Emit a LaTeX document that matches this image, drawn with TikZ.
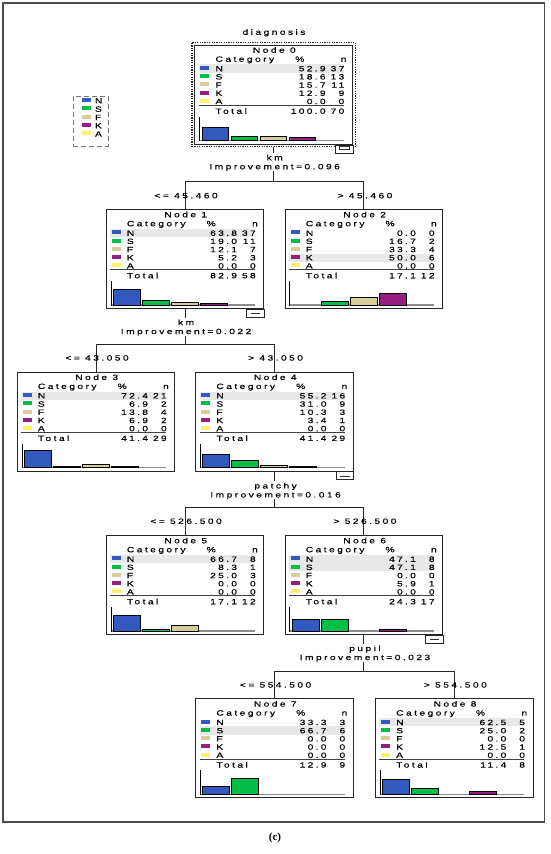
\documentclass[tikz,border=0pt]{standalone}
\usepackage{fontspec}
\setmainfont{Liberation Sans}[LetterSpace=32, FakeStretch=1.35, FakeBold=0.25]
\newfontfamily\numfont{Liberation Sans}[LetterSpace=30, FakeStretch=1.35, FakeBold=0.25]
\newfontfamily\capfont{Liberation Serif}
\usetikzlibrary{calc,fit}
\definecolor{cN}{RGB}{50,90,190}
\definecolor{cS}{RGB}{0,190,70}
\definecolor{cF}{RGB}{215,205,150}
\definecolor{cK}{RGB}{150,30,130}
\definecolor{cA}{RGB}{255,240,110}
\definecolor{hlgray}{RGB}{232,232,232}
\tikzset{
  treebox/.style={draw=black!85, line width=1pt, fill=white, minimum width=157.7pt, minimum height=99pt, inner sep=0pt, anchor=north west},
  txt/.style={inner sep=0pt, font=\fontsize{7.6}{9}\selectfont, text height=5.5pt, text depth=0pt},
  num/.style={txt, font=\numfont\fontsize{7.6}{9}\selectfont, anchor=east},
  barbox/.style={draw=black, line width=0.8pt},
  conn/.style={draw=black!85, line width=1pt},
  dotframe/.style={draw=black!85, line width=1.3pt, dash pattern=on 1.2pt off 1.2pt, inner sep=0pt},
  legendbox/.style={draw=black!55, line width=1pt, dash pattern=on 5pt off 3pt, inner sep=0pt, anchor=north west},
  minbox/.style={draw=black!85, line width=0.9pt, fill=white},
}
\newcommand\treenode[7]{%
  \node[treebox] (#1) at (#2,#3) {};
  \begin{scope}[shift={(#1.north west)}]
    \node[txt] (#1-title) at (80,5.5) {Node #4};
    \node[txt, anchor=west] (#1-cat) at (21,14.5) {Category};
    \node[txt] (#1-pcth) at (105.5,14.5) {\%};
    \node[txt, anchor=east] (#1-nh) at (152.3,14.5) {n};
    \draw[black!45, line width=1.3pt] (5.3,96) -- (149.3,96);
    \draw[black, line width=0.9pt] (5.3,72) -- (5.3,96.6);
    \foreach \lab/\col/\p/\n/\hl [count=\i from 0] in {#5}{
      \ifnum\hl=1 \fill[hlgray] (4.3,24+8.2*\i-4.1) rectangle (149.3,24+8.2*\i+4.1);\fi
      \fill[\col] (6,24+8.2*\i-2.6) rectangle (15,24+8.2*\i+1.4);
      \node[txt, anchor=west] (#1-l\i) at (21,24+8.2*\i) {\lab};
      \node[num] (#1-p\i) at (131.5,24+8.2*\i) {\p};
      \node[num] (#1-c\i) at (150.2,24+8.2*\i) {\n};
      \ifdim\p pt>0pt \draw[barbox, fill=\col] (7.6+29*\i,96) rectangle (34.3+29*\i,96-0.24*\p);\fi
    }
    \draw[black!75, line width=1pt] (4.3,60.7) -- (149.3,60.7);
    \node[txt, anchor=west] (#1-tot) at (21,66.5) {Total};
    \node[num] (#1-totp) at (131.5,66.5) {#6};
    \node[num] (#1-totn) at (150.2,66.5) {#7};
  \end{scope}
}
\newcommand\minimizer[1]{%
  \draw[minbox] ($(#1.south east)+(-17.6,0)$) rectangle ($(#1.south east)+(0,8)$);
  \draw[black!80, line width=0.9pt] ($(#1.south east)+(-13.5,4.5)$) -- ($(#1.south east)+(-4,4.5)$);
}
% #1 parent, #2 left child, #3 right child, #4 y of bar, #5 y of variable text, #6 variable, #7 improvement, #8 left label, #9 right label
\newcommand\splitdraw[9]{%
  \coordinate (#1-h) at (0,#4);
  \coordinate (#1-v) at (0,#5);
  \coordinate (#1-i) at (0,#5+9);
  \coordinate (#1-b) at (0,#4+13.8);
  \draw[conn] (#1.south) -- (#1.south |- #1-h);
  \draw[conn] (#2.north) |- (#1-h -| #3.north) -- (#3.north);
  \node[txt, fill=white, inner xsep=1pt, inner ysep=1.5pt] (#1-var) at ([xshift=1pt]#1.south |- #1-v) {#6};
  \node[txt, fill=white, inner xsep=1pt, inner ysep=1.5pt] (#1-imp) at ([xshift=1pt]#1.south |- #1-i) {Improvement=#7};
  \node[txt] (#1-bl) at ([xshift=1pt]#2.north |- #1-b) {#8};
  \node[txt] (#1-br) at ([xshift=1pt]#3.north |- #1-b) {#9};
}
\begin{document}
\begin{tikzpicture}[x=1pt, y=-1pt]
\useasboundingbox (0,0) rectangle (550,854);
\fill[white] (0,0) rectangle (550,854);
\draw[black!70, line width=1.3pt] (3,3) rectangle (544.5,822);

% legend
\node[legendbox, minimum width=35pt, minimum height=50pt] (legend) at (72.7,95.7) {};
\foreach \lab/\col [count=\i from 0] in {N/cN,S/cS,F/cF,K/cK,A/cA}{
  \fill[\col] (81.7,100.7+8.3*\i-2.6) rectangle (90.7,100.7+8.3*\i+1.4);
  \node[txt, anchor=west] (leg\i) at (94.8,100.7+8.3*\i) {\lab};
}

\node[txt] (diag) at (274,32) {diagnosis};

\treenode{n0}{194.3}{44.5}{0}{N/cN/52.9/37/1, S/cS/18.6/13/0, F/cF/15.7/11/0, K/cK/12.9/9/0, A/cA/0.0/0/0}{100.0}{70}
\node[dotframe, fit=(n0), inner xsep=2.3pt, inner ysep=2.3pt] (n0f) {};
\draw[minbox] ($(n0.south east)+(-17.6,0.5)$) rectangle ($(n0.south east)+(0,8.5)$);
\draw[black!80, line width=0.8pt] ($(n0.south east)+(-14,1.5)$) rectangle ($(n0.south east)+(-3.5,5)$);

\treenode{n1}{105.7}{209}{1}{N/cN/63.8/37/1, S/cS/19.0/11/0, F/cF/12.1/7/0, K/cK/5.2/3/0, A/cA/0.0/0/0}{82.9}{58}
\minimizer{n1}
\treenode{n2}{284.6}{209}{2}{N/cN/0.0/0/0, S/cS/16.7/2/0, F/cF/33.3/4/0, K/cK/50.0/6/1, A/cA/0.0/0/0}{17.1}{12}

\treenode{n3}{16.7}{371.7}{3}{N/cN/72.4/21/1, S/cS/6.9/2/0, F/cF/13.8/4/0, K/cK/6.9/2/0, A/cA/0.0/0/0}{41.4}{29}
\treenode{n4}{195.2}{371.7}{4}{N/cN/55.2/16/1, S/cS/31.0/9/0, F/cF/10.3/3/0, K/cK/3.4/1/0, A/cA/0.0/0/0}{41.4}{29}
\minimizer{n4}

\treenode{n5}{105.7}{535}{5}{N/cN/66.7/8/1, S/cS/8.3/1/0, F/cF/25.0/3/0, K/cK/0.0/0/0, A/cA/0.0/0/0}{17.1}{12}
\treenode{n6}{284.6}{535}{6}{N/cN/47.1/8/1, S/cS/47.1/8/1, F/cF/0.0/0/0, K/cK/5.9/1/0, A/cA/0.0/0/0}{24.3}{17}
\minimizer{n6}

\treenode{n7}{195.2}{698.3}{7}{N/cN/33.3/3/0, S/cS/66.7/6/1, F/cF/0.0/0/0, K/cK/0.0/0/0, A/cA/0.0/0/0}{12.9}{9}
\treenode{n8}{375}{698.3}{8}{N/cN/62.5/5/1, S/cS/25.0/2/0, F/cF/0.0/0/0, K/cK/12.5/1/0, A/cA/0.0/0/0}{11.4}{8}

\splitdraw{n0f}{n1}{n2}{181.7}{157.5}{km}{0.096}{<= 45.460}{> 45.460}
\splitdraw{n1}{n3}{n4}{344}{322.3}{km}{0.022}{<= 43.050}{> 43.050}
\splitdraw{n4}{n5}{n6}{507.3}{485.7}{patchy}{0.016}{<= 526.500}{> 526.500}
\splitdraw{n6}{n7}{n8}{671}{648.3}{pupil}{0.023}{<= 554.500}{> 554.500}

\node[font=\capfont\bfseries\fontsize{11}{13}\selectfont, inner sep=0pt] (cap) at (275,838) {(c)};
\end{tikzpicture}
\end{document}
